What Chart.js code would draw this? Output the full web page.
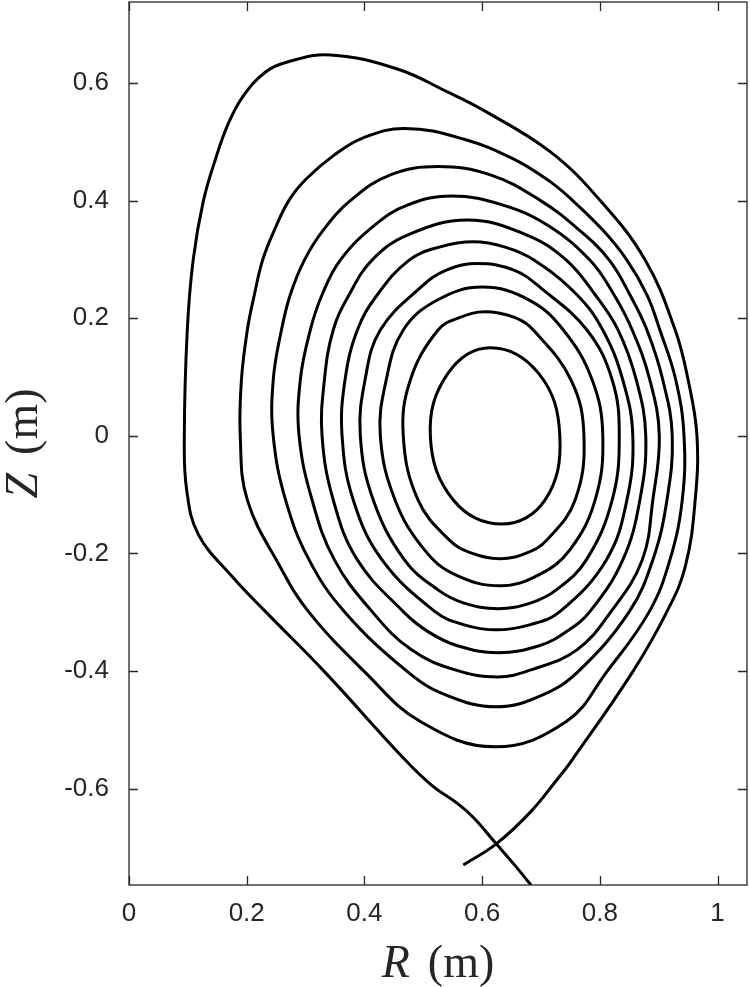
<!DOCTYPE html>
<html><head><meta charset="utf-8">
<script src="https://cdn.jsdelivr.net/npm/chart.js@4.4.1/dist/chart.umd.min.js"></script>
<style>html,body{margin:0;padding:0;background:#fff;}canvas{display:block;}</style>
</head><body>
<canvas id="c" width="750" height="987"></canvas>
<script>
// Tick values / labels
const xTickValues = [0, 0.2, 0.4, 0.6, 0.8, 1];
const xTickLabels = ['0', '0.2', '0.4', '0.6', '0.8', '1'];
const yTickValues = [-0.6, -0.4, -0.2, 0, 0.2, 0.4, 0.6];
const yTickLabels = ['-0.6', '-0.4', '-0.2', '0', '0.2', '0.4', '0.6'];

// Separatrix (open curve, passing through the X-point twice)
const sepR = [0.568,0.624,0.682,0.727,0.753,0.856,0.914,0.945,0.962,0.965,0.950,0.928,0.877,0.800,0.716,0.602,0.541,0.456,0.342,0.269,0.232,0.194,0.169,0.147,0.126,0.109,0.099,0.094,0.098,0.118,0.176,0.232,0.332,0.469,0.515,0.559,0.586,0.624,0.656,0.683];
const sepZ = [-0.730,-0.694,-0.640,-0.585,-0.551,-0.401,-0.299,-0.223,-0.109,0,0.095,0.180,0.299,0.401,0.483,0.554,0.585,0.624,0.648,0.636,0.619,0.578,0.532,0.471,0.398,0.299,0.180,0,-0.092,-0.168,-0.240,-0.299,-0.401,-0.551,-0.595,-0.626,-0.650,-0.694,-0.731,-0.764];

// Closed flux surfaces, innermost (c1) to outermost (c9)
const c1R = [0.614,0.697,0.732,0.707,0.634,0.551,0.512,0.541];
const c1Z = [0.150,0.105,0,-0.109,-0.150,-0.109,0,0.105];

const c2R = [0.605,0.656,0.687,0.751,0.773,0.758,0.710,0.676,0.631,0.581,0.544,0.491,0.466,0.478,0.525,0.561];
const c2Z = [0.211,0.201,0.180,0.095,0,-0.109,-0.177,-0.199,-0.209,-0.199,-0.177,-0.109,0,0.095,0.180,0.201];

const c3R = [0.600,0.680,0.738,0.787,0.805,0.792,0.749,0.697,0.631,0.554,0.502,0.452,0.427,0.437,0.466,0.524];
const c3Z = [0.253,0.231,0.180,0.095,0,-0.109,-0.194,-0.236,-0.255,-0.236,-0.194,-0.109,0,0.095,0.180,0.231];

const c4R = [0.593,0.654,0.699,0.778,0.821,0.833,0.821,0.777,0.726,0.683,0.627,0.568,0.525,0.468,0.415,0.393,0.401,0.427,0.495,0.539];
const c4Z = [0.293,0.282,0.252,0.180,0.095,0,-0.109,-0.211,-0.262,-0.284,-0.294,-0.284,-0.262,-0.211,-0.109,0,0.095,0.180,0.252,0.282];

const c5R = [0.585,0.639,0.688,0.761,0.805,0.839,0.856,0.846,0.811,0.732,0.682,0.624,0.568,0.520,0.430,0.381,0.362,0.367,0.388,0.422,0.476,0.527];
const c5Z = [0.330,0.321,0.299,0.240,0.180,0.095,0,-0.109,-0.211,-0.299,-0.321,-0.330,-0.321,-0.299,-0.211,-0.109,0,0.095,0.180,0.240,0.299,0.321];

const c6R = [0.575,0.675,0.743,0.792,0.831,0.862,0.878,0.868,0.839,0.783,0.743,0.697,0.627,0.558,0.508,0.466,0.388,0.347,0.328,0.332,0.347,0.374,0.413,0.474];
const c6Z = [0.367,0.342,0.299,0.240,0.180,0.095,0,-0.109,-0.211,-0.299,-0.333,-0.357,-0.369,-0.357,-0.333,-0.299,-0.211,-0.109,0,0.095,0.180,0.240,0.299,0.342];

const c7R = [0.549,0.634,0.710,0.783,0.824,0.855,0.885,0.901,0.890,0.872,0.819,0.761,0.683,0.626,0.554,0.480,0.413,0.349,0.311,0.289,0.291,0.308,0.328,0.359,0.418,0.474];
const c7Z = [0.408,0.393,0.359,0.299,0.240,0.180,0.095,0,-0.109,-0.211,-0.299,-0.364,-0.398,-0.410,-0.398,-0.364,-0.299,-0.211,-0.109,0,0.095,0.180,0.240,0.299,0.359,0.393];

const c8R = [0.525,0.614,0.698,0.765,0.816,0.851,0.880,0.907,0.923,0.914,0.890,0.850,0.763,0.702,0.624,0.539,0.473,0.366,0.306,0.266,0.245,0.245,0.259,0.274,0.298,0.330,0.376,0.444];
const c8Z = [0.458,0.444,0.401,0.350,0.299,0.240,0.180,0.095,0,-0.109,-0.211,-0.299,-0.401,-0.441,-0.461,-0.441,-0.401,-0.299,-0.211,-0.109,0,0.095,0.180,0.240,0.299,0.350,0.400,0.444];

const c9R = [0.469,0.568,0.653,0.716,0.753,0.805,0.846,0.880,0.902,0.929,0.943,0.940,0.919,0.884,0.812,0.743,0.622,0.495,0.400,0.305,0.257,0.201,0.189,0.191,0.201,0.213,0.227,0.247,0.272,0.301,0.349,0.398];
const c9Z = [0.523,0.505,0.471,0.432,0.401,0.350,0.299,0.240,0.180,0.095,0,-0.109,-0.211,-0.299,-0.401,-0.486,-0.529,-0.486,-0.401,-0.299,-0.223,-0.109,0,0.095,0.180,0.240,0.299,0.350,0.401,0.437,0.478,0.507];

const AXIS_COLOR = '#262626';
const LINE_COLOR = '#000000';

function pts(R, Z) { return R.map((r, i) => ({x: r, y: Z[i]})); }
function closedPts(R, Z) {
  const p = pts(R, Z); const n = p.length;
  return [p[n - 1], ...p, p[0], p[1]];
}

const surfaces = [[c1R,c1Z],[c2R,c2Z],[c3R,c3Z],[c4R,c4Z],[c5R,c5Z],[c6R,c6Z],[c7R,c7Z],[c8R,c8Z],[c9R,c9Z]];
const datasets = surfaces.map(([R, Z]) => {
  const data = closedPts(R, Z);
  const lastSeg = data.length - 2;
  return {
    data, showLine: true, borderColor: LINE_COLOR, borderWidth: 3, tension: 0.4,
    pointRadius: 0, pointHoverRadius: 0, fill: false,
    segment: { borderColor: ctx => (ctx.p0DataIndex === 0 || ctx.p0DataIndex === lastSeg) ? 'rgba(0,0,0,0)' : LINE_COLOR }
  };
});
datasets.push({
  data: pts(sepR, sepZ), showLine: true, borderColor: LINE_COLOR, borderWidth: 3, tension: 0.4,
  pointRadius: 0, pointHoverRadius: 0, fill: false
});

function drawTitle(ctx, ital, rest, cx, cy, rot) {
  ctx.save();
  ctx.translate(cx, cy); ctx.rotate(rot);
  ctx.fillStyle = AXIS_COLOR;
  ctx.textBaseline = 'alphabetic'; ctx.textAlign = 'left';
  const fI = 'italic 46px "Liberation Serif", "Times New Roman", serif';
  const fN = '46px "Liberation Serif", "Times New Roman", serif';
  ctx.font = fI; const wI = ctx.measureText(ital).width;
  ctx.font = fN; const wN = ctx.measureText(rest).width;
  const gap = 18; const total = wI + gap + wN; const s = -total / 2;
  ctx.font = fI; ctx.fillText(ital, s, 0);
  ctx.font = fN; ctx.fillText(rest, s + wI + gap, 0);
  ctx.restore();
}

const framePlugin = {
  id: 'frame',
  afterDraw(chart) {
    const {ctx, chartArea: a, scales: {x, y}} = chart;
    ctx.save();
    ctx.strokeStyle = AXIS_COLOR; ctx.lineWidth = 1.3;
    ctx.strokeRect(a.left, a.top, a.right - a.left, a.bottom - a.top);
    const L = 9;
    ctx.beginPath();
    x.ticks.forEach(t => {
      const px = Math.round(x.getPixelForValue(t.value)) + 0.5;
      ctx.moveTo(px, a.bottom); ctx.lineTo(px, a.bottom - L);
      ctx.moveTo(px, a.top); ctx.lineTo(px, a.top + L);
    });
    y.ticks.forEach(t => {
      const py = Math.round(y.getPixelForValue(t.value)) + 0.5;
      ctx.moveTo(a.left, py); ctx.lineTo(a.left + L, py);
      ctx.moveTo(a.right, py); ctx.lineTo(a.right - L, py);
    });
    ctx.stroke();
    ctx.restore();
    drawTitle(ctx, 'R', '(m)', (a.left + a.right) / 2, 977, 0);
    drawTitle(ctx, 'Z', '(m)', 37, (a.top + a.bottom) / 2, -Math.PI / 2);
  }
};

const tickFont = {family: '"Liberation Sans", Arial, Helvetica, sans-serif', size: 26};

new Chart(document.getElementById('c'), {
  type: 'scatter',
  data: { datasets },
  options: {
    responsive: false, animation: false, devicePixelRatio: 1,
    layout: { padding: { top: 2, right: 3, left: 0, bottom: 0 } },
    plugins: { legend: { display: false }, tooltip: { enabled: false } },
    events: [],
    scales: {
      x: {
        type: 'linear', position: 'bottom', min: 0, max: 1.05,
        afterBuildTicks: s => { s.ticks = xTickValues.map(v => ({value: v})); },
        afterFit: s => { s.height = 102; s.paddingLeft = 0; s.paddingRight = 0; },
        ticks: { callback: (v, i) => xTickLabels[i], font: tickFont, color: AXIS_COLOR, padding: 13, maxRotation: 0, autoSkip: false },
        grid: { display: false, drawTicks: false },
        border: { display: false }
      },
      y: {
        type: 'linear', position: 'left', min: -0.764, max: 0.738,
        afterBuildTicks: s => { s.ticks = yTickValues.map(v => ({value: v})); },
        afterFit: s => { s.width = 129; s.paddingTop = 0; s.paddingBottom = 0; },
        ticks: { callback: (v, i) => yTickLabels[i], font: tickFont, color: AXIS_COLOR, padding: 20, autoSkip: false },
        grid: { display: false, drawTicks: false },
        border: { display: false }
      }
    }
  },
  plugins: [framePlugin]
});
</script>
</body></html>
